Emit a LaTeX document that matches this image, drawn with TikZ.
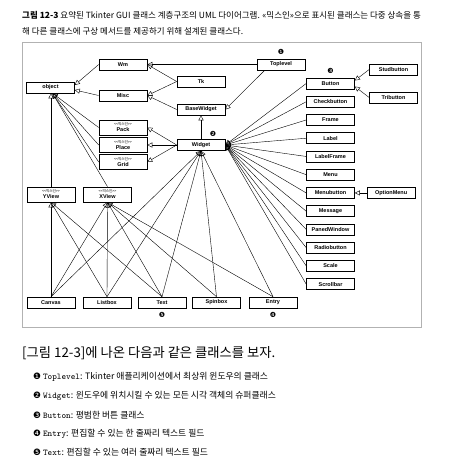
\documentclass[tikz,border=0pt]{standalone}
\usepackage{fontspec}
\usepackage{tikz}
\usetikzlibrary{arrows.meta,positioning}
\setmainfont{Liberation Sans}
\newfontfamily\kr{Noto Sans CJK KR}
\newfontfamily\sym{DejaVu Sans}
\newcommand{\mixtag}{{\kr\mdseries\fontsize{3.6}{4}\selectfont <<믹스인>>}}

\begin{document}
\begin{tikzpicture}[x=1pt, y=-1pt, node distance=6.64pt,
  cls/.style={draw, line width=0.6pt, minimum width=48pt, minimum height=11pt, inner sep=0pt,
    font=\bfseries\fontsize{5.5}{6}\selectfont},
  mixin/.style={cls, minimum height=15pt, align=center},
  inh/.style={-{Triangle[open, length=5pt, width=5pt]}, line width=0.4pt},
  num/.style={font=\sym\fontsize{7}{7}\selectfont, inner sep=0pt},
  note/.style={anchor=west, inner sep=0pt, font=\kr\fontsize{8.8}{9}\selectfont}]
  \useasboundingbox (0,0) rectangle (474,472);

  % caption
  \node[anchor=west, inner sep=0pt, font=\kr\fontsize{8.5}{9}\selectfont] (cap1) at (22,15)
    {{\bfseries 그림 12-3} 요약된 Tkinter GUI 클래스 계층구조의 UML 다이어그램. «믹스인»으로 표시된 클래스는 다중 상속을 통};
  \node[anchor=west, inner sep=0pt, font=\kr\fontsize{8.5}{9}\selectfont] (cap2) at (22,31)
    {해 다른 클래스에 구상 메서드를 제공하기 위해 설계된 클래스다.};
  \draw[gray!60, line width=0.8pt] (22,42) rectangle (421,327);

  % base classes
  \node[cls] (object) at (50.5,87.5) {object};
  \node[cls] (wm) at (123,64.5) {Wm};
  \node[cls] (misc) at (123,95.5) {Misc};
  \node[cls] (tk) at (201,81.5) {Tk};
  \node[cls] (basewidget) at (201,109.5) {BaseWidget};
  \node[cls] (toplevel) at (281,64.5) {Toplevel};
  \node[cls] (widget) at (201,145) {Widget};
  \node[mixin] (pack) at (123,127.5) {\mixtag\\Pack};
  \node[mixin] (place) at (123,145) {\mixtag\\Place};
  \node[mixin] (grid) at (123,162) {\mixtag\\Grid};
  \node[mixin] (yview) at (51,194.5) {\mixtag\\YView};
  \node[mixin] (xview) at (107.5,194.5) {\mixtag\\XView};

  % widgets
  \node[cls] (button) at (330.5,83.5) {Button};
  \node[cls, below=of button] (checkbutton) {Checkbutton};
  \node[cls, below=of checkbutton] (frame) {Frame};
  \node[cls, below=of frame] (label) {Label};
  \node[cls, below=of label] (labelframe) {LabelFrame};
  \node[cls, below=of labelframe] (menu) {Menu};
  \node[cls, below=of menu] (menubutton) {Menubutton};
  \node[cls, below=of menubutton] (message) {Message};
  \node[cls, below=of message] (panedwindow) {PanedWindow};
  \node[cls, below=of panedwindow] (radiobutton) {Radiobutton};
  \node[cls, below=of radiobutton] (scale) {Scale};
  \node[cls, below=of scale] (scrollbar) {Scrollbar};
  \node[cls] (studbutton) at (393.5,69.5) {Studbutton};
  \node[cls] (tributton) at (393.5,97.5) {Tributton};
  \node[cls, right=12pt of menubutton] (optionmenu) {OptionMenu};
  \node[cls] (canvas) at (51,302.5) {Canvas};
  \node[cls] (listbox) at (107,302.5) {Listbox};
  \node[cls] (text) at (162,302.5) {Text};
  \node[cls] (spinbox) at (216.5,302.5) {Spinbox};
  \node[cls] (entry) at (273,302.5) {Entry};

  % markers
  \node[num, above=4pt of toplevel] (n1) {❶};
  \node[num] (n2) at (213,134) {❷};
  \node[num, above=4pt of button] (n3) {❸};
  \node[num, below=4pt of entry] (n4) {❹};
  \node[num, below=4pt of text] (n5) {❺};

  % inheritance
  \draw[inh] (wm.west) -- ([yshift=2.5pt]object.east);
  \draw[inh] (misc.west) -- ([yshift=-2.5pt]object.east);
  \draw[inh] (tk.west) -- (wm.east);
  \draw[inh] (tk.west) -- (misc.east);
  \draw[inh] (toplevel.west) -- (wm.east);
  \draw[inh] ([xshift=8pt]toplevel.south west) -- (basewidget.east);
  \draw[inh] (basewidget.west) -- (misc.east);
  \draw[inh] (widget) -- (basewidget);
  \foreach \m in {pack,place,grid} {
    \draw[inh] (widget.west) -- (\m.east);
    \draw[inh] (\m.west) -- ([xshift=2pt]object.south);
  }
  \draw[inh] (yview.north) -- (yview.north |- object.south);
  \draw[inh] (xview.north) -- ([xshift=2pt]object.south);
  \foreach \w in {button,checkbutton,frame,label,labelframe,menu,menubutton,
                  message,panedwindow,radiobutton,scale,scrollbar}
    \draw[inh] (\w.west) -- (widget.east);
  \draw[inh] (studbutton.west) -- ([yshift=3pt]button.east);
  \draw[inh] (tributton.west) -- ([yshift=-3pt]button.east);
  \draw[inh] (optionmenu) -- (menubutton);
  \foreach \w in {canvas,listbox,text,spinbox,entry} {
    \draw[inh] (\w.north) -- (widget.south);
    \draw[inh] (\w.north) -- (xview.south);
  }
  \foreach \w in {canvas,listbox,text}
    \draw[inh] (\w.north) -- (yview.south);

  % body text
  \node[anchor=west, inner sep=0pt, font=\kr\fontsize{13.3}{14}\selectfont] (intro) at (22,353)
    {[그림 12-3]에 나온 다음과 같은 클래스를 보자.};
  \node[note] (note1) at (33,377) {{\sym ❶} {\ttfamily Toplevel}: Tkinter 애플리케이션에서 최상위 윈도우의 클래스};
  \node[note] (note2) at (33,395.5) {{\sym ❷} {\ttfamily Widget}: 윈도우에 위치시킬 수 있는 모든 시각 객체의 슈퍼클래스};
  \node[note] (note3) at (33,415) {{\sym ❸} {\ttfamily Button}: 평범한 버튼 클래스};
  \node[note] (note4) at (33,434) {{\sym ❹} {\ttfamily Entry}: 편집할 수 있는 한 줄짜리 텍스트 필드};
  \node[note] (note5) at (33,452.5) {{\sym ❺} {\ttfamily Text}: 편집할 수 있는 여러 줄짜리 텍스트 필드};
\end{tikzpicture}
\end{document}
